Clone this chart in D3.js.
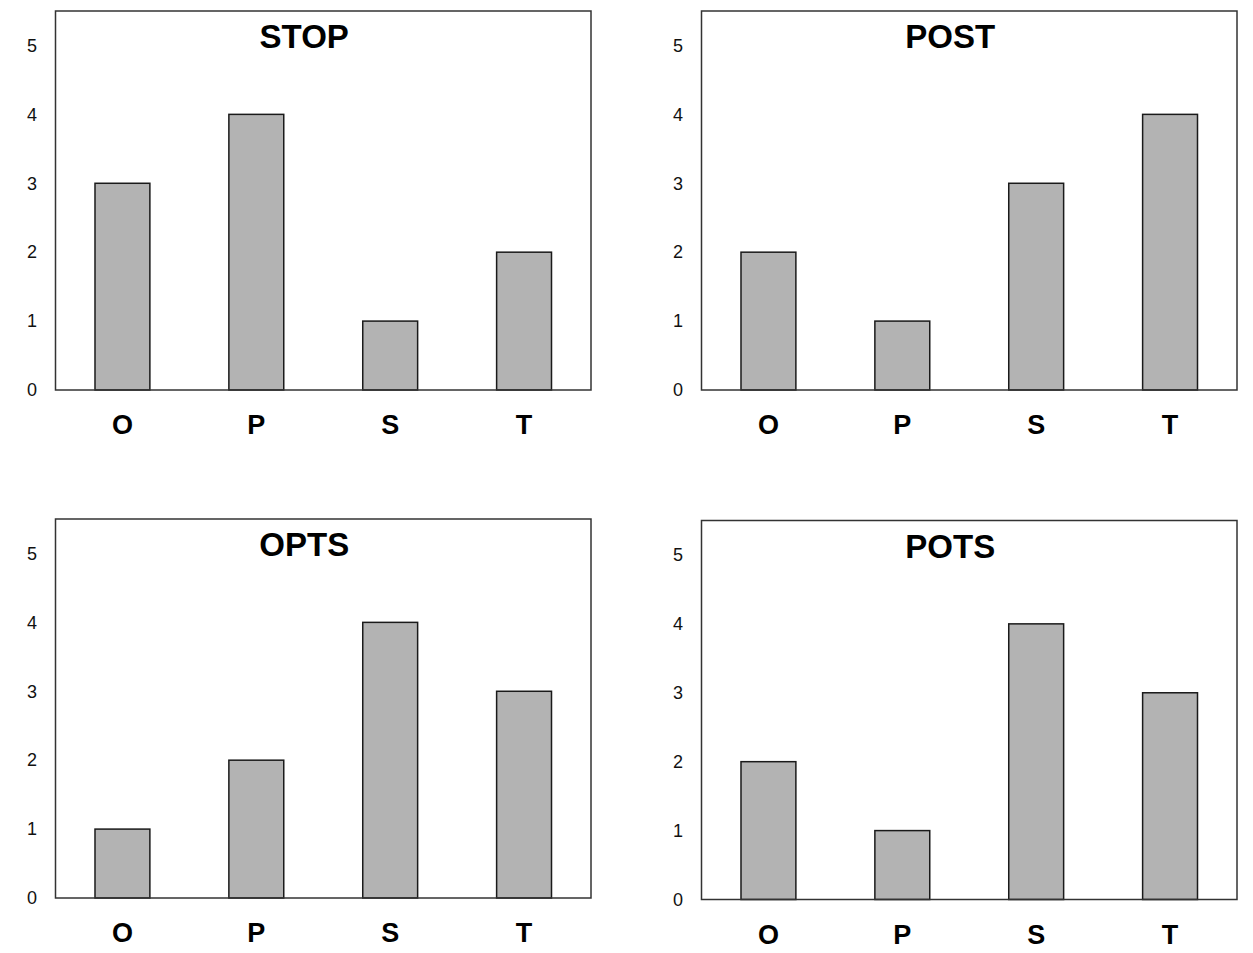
<!DOCTYPE html>
<html>
<head>
<meta charset="utf-8">
<script src="https://cdn.jsdelivr.net/npm/d3@7"></script>
<style>
  html, body { margin: 0; padding: 0; background: #fff; }
  svg { display: block; }
</style>
</head>
<body>
<svg id="chart" width="1253" height="953"></svg>
<script>
// ---- data ----
const categories = ["O", "P", "S", "T"];
const titles = ["STOP", "POST", "OPTS", "POTS"];
const stopValues = [3, 4, 1, 2];
const postValues = [2, 1, 3, 4];
const optsValues = [1, 2, 4, 3];
const potsValues = [2, 1, 4, 3];
const yTicks = [0, 1, 2, 3, 4, 5];
const yMax = 5.5;

const seriesList = [stopValues, postValues, optsValues, potsValues];

// ---- layout ----
const frames = [
  { x: 55.5, y: 11, w: 535.5, h: 379 },
  { x: 701.5, y: 11, w: 535.5, h: 379 },
  { x: 55.5, y: 519, w: 535.5, h: 379 },
  { x: 701.5, y: 520.5, w: 535.5, h: 379 }
];

const svg = d3.select("#chart");
const font = "'Liberation Sans', Arial, Helvetica, sans-serif";

frames.forEach((f, i) => {
  const values = seriesList[i];
  const g = svg.append("g").attr("transform", `translate(${f.x},${f.y})`);

  const x = d3.scaleBand().domain(categories).range([0, f.w])
    .paddingInner(0.59).paddingOuter(0.295);
  const y = d3.scaleLinear().domain([0, yMax]).range([f.h, 0]);

  // bars
  g.selectAll("rect.bar")
    .data(categories.map((c, k) => ({ c, v: values[k] })))
    .join("rect")
    .attr("class", "bar")
    .attr("x", d => x(d.c))
    .attr("y", d => y(d.v))
    .attr("width", x.bandwidth())
    .attr("height", d => y(0) - y(d.v))
    .attr("fill", "#b3b3b3")
    .attr("stroke", "#1a1a1a")
    .attr("stroke-width", 1.5);

  // frame
  g.append("rect")
    .attr("x", 0).attr("y", 0)
    .attr("width", f.w).attr("height", f.h)
    .attr("fill", "none")
    .attr("stroke", "#333")
    .attr("stroke-width", 1.5);

  // y axis (labels only)
  const yAxis = d3.axisLeft(y).tickValues(yTicks).tickSize(0).tickPadding(18)
    .tickFormat(d3.format("d"));
  const ya = g.append("g").call(yAxis);
  ya.select(".domain").remove();
  ya.selectAll("text")
    .attr("font-family", font)
    .attr("font-size", 18)
    .attr("fill", "#111")
    .attr("text-anchor", "middle")
    .attr("x", -23.5);

  // x axis (labels only)
  const xAxis = d3.axisBottom(x).tickSize(0).tickPadding(25);
  const xa = g.append("g").attr("transform", `translate(0,${f.h})`).call(xAxis);
  xa.select(".domain").remove();
  xa.selectAll("text")
    .attr("font-family", font)
    .attr("font-size", 27)
    .attr("font-weight", "bold")
    .attr("fill", "#000");

  // title
  g.append("text")
    .attr("x", f.w / 2 - 19)
    .attr("y", 37)
    .attr("text-anchor", "middle")
    .attr("font-family", font)
    .attr("font-size", 33)
    .attr("font-weight", "bold")
    .attr("fill", "#000")
    .text(titles[i]);
});
</script>
</body>
</html>
